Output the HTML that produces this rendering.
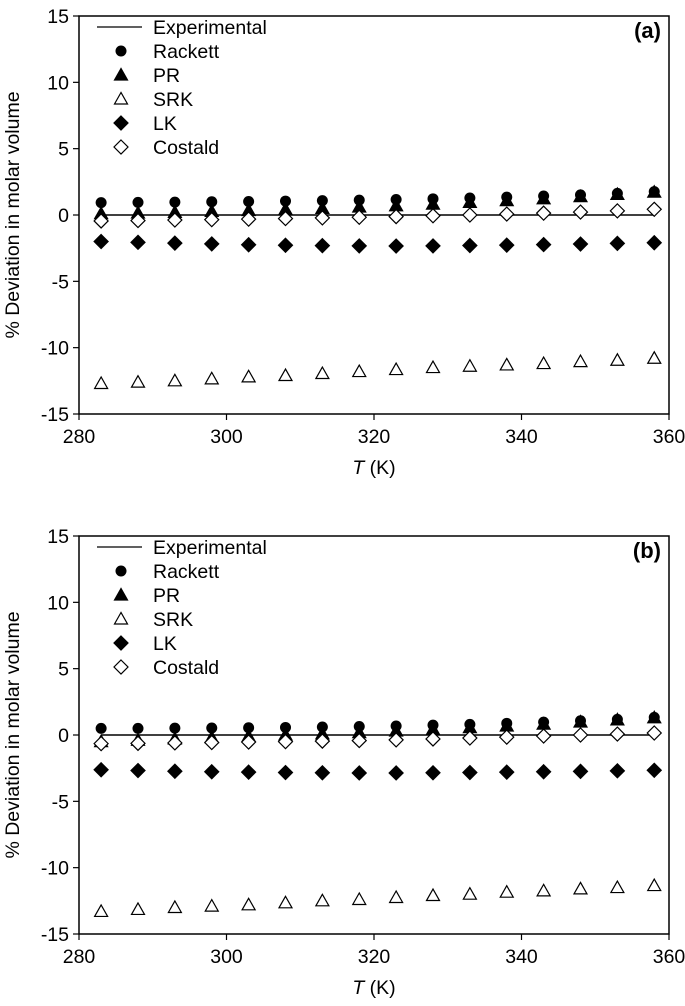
<!DOCTYPE html>
<html><head><meta charset="utf-8"><style>
body{margin:0;background:#fff}
svg{display:block;font-family:"Liberation Sans",Arial,sans-serif}
</style></head><body>
<svg id="c" width="685" height="1006" xmlns="http://www.w3.org/2000/svg"></svg>
<script>
const temps=[283,288,293,298,303,308,313,318,323,328,333,338,343,348,353,358];
const xTicks=[280,300,320,340,360];
const yTicks=[15,10,5,0,-5,-10,-15];
const rackettA=[0.93,0.95,0.97,1.0,1.02,1.05,1.08,1.12,1.17,1.22,1.28,1.35,1.43,1.52,1.63,1.76];
const prA=[0.1,0.15,0.2,0.27,0.34,0.42,0.5,0.6,0.7,0.82,0.95,1.08,1.22,1.38,1.55,1.72];
const srkA=[-12.7,-12.6,-12.5,-12.35,-12.2,-12.1,-11.95,-11.8,-11.65,-11.5,-11.4,-11.3,-11.2,-11.05,-10.95,-10.8];
const lkA=[-2.0,-2.06,-2.12,-2.18,-2.24,-2.28,-2.31,-2.33,-2.34,-2.33,-2.3,-2.27,-2.23,-2.19,-2.14,-2.09];
const costaldA=[-0.45,-0.42,-0.38,-0.35,-0.31,-0.27,-0.22,-0.17,-0.12,-0.06,0.0,0.07,0.14,0.22,0.31,0.43];
const rackettB=[0.5,0.5,0.52,0.53,0.55,0.57,0.6,0.64,0.68,0.74,0.8,0.88,0.97,1.07,1.18,1.33];
const prB=[-0.5,-0.4,-0.3,-0.2,-0.1,0.0,0.08,0.18,0.3,0.42,0.55,0.68,0.82,0.98,1.14,1.3];
const srkB=[-13.3,-13.15,-13.0,-12.9,-12.8,-12.65,-12.5,-12.4,-12.25,-12.1,-12.0,-11.85,-11.75,-11.6,-11.5,-11.35];
const lkB=[-2.62,-2.68,-2.73,-2.77,-2.8,-2.83,-2.85,-2.86,-2.86,-2.85,-2.83,-2.8,-2.77,-2.74,-2.7,-2.66];
const costaldB=[-0.65,-0.63,-0.6,-0.57,-0.53,-0.5,-0.46,-0.42,-0.37,-0.3,-0.23,-0.16,-0.08,0.0,0.07,0.15];
const experimental=[0,0];

const NS="http://www.w3.org/2000/svg";
const svg=document.getElementById('c');
function mk(tag,attrs,parent){const e=document.createElementNS(NS,tag);for(const k in attrs)e.setAttribute(k,attrs[k]);(parent||svg).appendChild(e);return e;}
const L=79,R=669;
function xs(t){return L+(t-280)*(R-L)/80;}

function marker(g,type,x,y){
  let e;
  if(type==='circle') e=mk('circle',{cx:x,cy:y,r:5.5,fill:'#000'},g);
  else if(type==='tri'||type==='otri') e=mk('polygon',{points:`${x},${y-6.5} ${x-6.5},${y+5} ${x+6.5},${y+5}`,fill:type==='tri'?'#000':'#fff',stroke:'#000','stroke-width':1.2},g);
  else e=mk('polygon',{points:`${x},${y-7} ${x+7},${y} ${x},${y+7} ${x-7},${y}`,fill:type==='dia'?'#000':'#fff',stroke:'#000','stroke-width':1.2},g);
  return e;
}

function panel(top,label,series){
  const bottom=top+398;
  const ys=v=>top+(15-v)*(bottom-top)/30;
  const g=mk('g',{});
  
  
  const box=mk('rect',{x:L,y:top,width:R-L,height:bottom-top,fill:'none',stroke:'#000','stroke-width':1.5},g);
  
  
  yTicks.forEach(v=>{
    const y=ys(v);
    mk('line',{x1:L-6,x2:L,y1:y,y2:y,stroke:'#000','stroke-width':1.2},g);
    const t=mk('text',{x:L-10,y:y+7,'text-anchor':'end','font-size':19.5,fill:'#000'},g);
    t.textContent=v;
    
    
  });
  xTicks.forEach(v=>{
    const x=xs(v);
    mk('line',{x1:x,x2:x,y1:bottom,y2:bottom+6,stroke:'#000','stroke-width':1.2},g);
    const t=mk('text',{x:x,y:bottom+29,'text-anchor':'middle','font-size':19.5,fill:'#000'},g);
    t.textContent=v;
    
    
  });
  const xt=mk('text',{x:374,y:bottom+60,'text-anchor':'middle','font-size':19.5,fill:'#000'},g);
  xt.innerHTML='<tspan font-style="italic">T</tspan> (K)';
  
  
  const yt=mk('text',{x:0,y:0,'text-anchor':'middle','font-size':19.5,fill:'#000',transform:`translate(19,${(top+bottom)/2}) rotate(-90)`},g);
  yt.textContent='% Deviation in molar volume';
  
  
  const pl=mk('text',{x:R-8,y:top+22,'text-anchor':'end','font-size':22,'font-weight':'bold',fill:'#000'},g);
  pl.textContent='('+label+')';
  
  
  const el=mk('line',{x1:xs(temps[0]),x2:xs(temps[temps.length-1]),y1:ys(experimental[0]),y2:ys(experimental[1]),stroke:'#000','stroke-width':1.5},g);
  
  
  series.forEach(s=>{
    s.vals.forEach((v,i)=>{
      const m=marker(g,s.type,xs(temps[i]),ys(v));
      
      
    });
  });
  const lg=mk('g',{},g);
  
  
  const names=['Experimental','Rackett','PR','SRK','LK','Costald'];
  const types=['line','circle','tri','otri','dia','odia'];
  names.forEach((n,i)=>{
    const y=top+11+i*24;
    if(types[i]==='line') mk('line',{x1:97,x2:142,y1:y,y2:y,stroke:'#000','stroke-width':1.3},lg);
    else marker(lg,types[i],121,y);
    const t=mk('text',{x:153,y:y+7,'font-size':19.5,fill:'#000'},lg);
    t.textContent=n;
    
    
  });
}
panel(16,'a',[
  {name:'lk',type:'dia',vals:lkA},
  {name:'srk',type:'otri',vals:srkA},
  {name:'pr',type:'tri',vals:prA},
  {name:'costald',type:'odia',vals:costaldA},
  {name:'rackett',type:'circle',vals:rackettA}]);
panel(536,'b',[
  {name:'lk',type:'dia',vals:lkB},
  {name:'srk',type:'otri',vals:srkB},
  {name:'pr',type:'tri',vals:prB},
  {name:'costald',type:'odia',vals:costaldB},
  {name:'rackett',type:'circle',vals:rackettB}]);
</script>
</body></html>
